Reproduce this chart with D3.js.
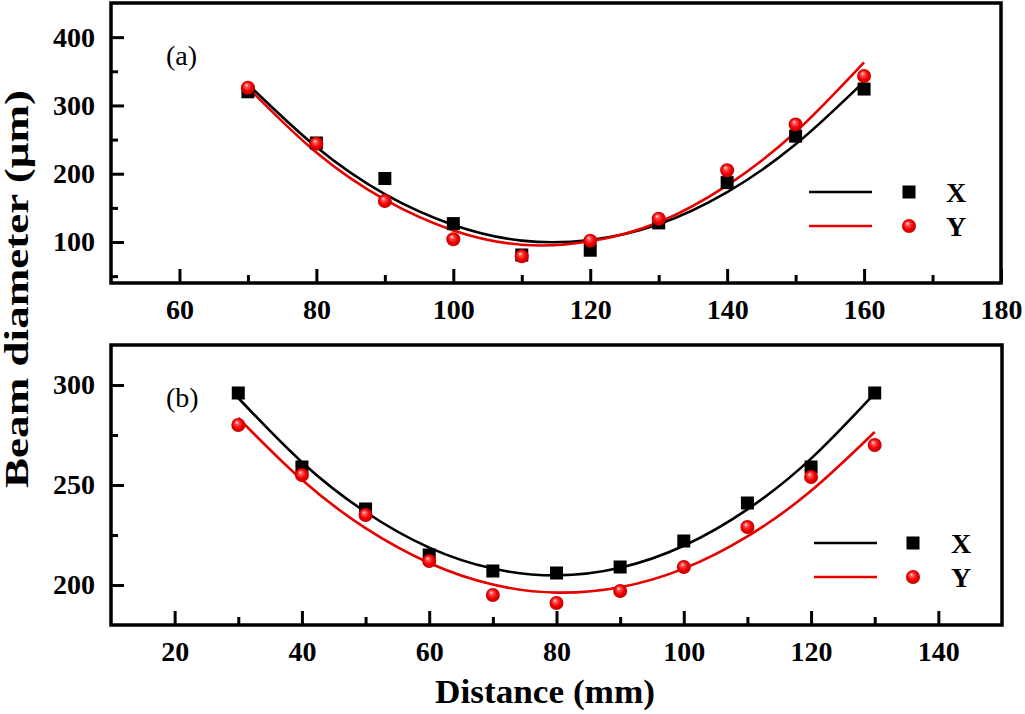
<!DOCTYPE html>
<html>
<head>
<meta charset="utf-8">
<script src="https://cdn.jsdelivr.net/npm/d3@7"></script>
<style>
  body { margin: 0; background: #fff; }
  svg text { font-family: "Liberation Serif", "Times New Roman", serif; }
</style>
</head>
<body>
<div id="chart"></div>
<script>
// panel (a)
var distA = [70, 80, 90, 100, 110, 120, 130, 140, 150, 160];
var xMeasA = [320, 245, 193, 127, 81, 88, 128, 187, 255, 324];
var yMeasA = [326, 244, 160, 104, 79, 102, 134, 205, 272, 343];
// fitted curves at each distance
var xFitA = [331, 239, 170, 125, 102, 103, 126, 173, 243, 335];
var yFitA = [326, 231, 162, 117, 96, 101, 129, 183, 261, 363];

// panel (b)
var distB = [30, 40, 50, 60, 70, 80, 90, 100, 110, 120, 130];
var xMeasB = [296, 259, 238, 215, 207, 206, 209, 222, 241, 259, 296];
var yMeasB = [280, 255, 235, 212, 195, 191, 197, 209, 229, 254, 270];
var xFitB = [293.5, 261.4, 236.5, 218.7, 208.2, 204.8, 208.6, 219.6, 237.8, 263.2, 295.8];
var yFitB = [283.5, 252.6, 228.4, 211.0, 200.2, 196.2, 198.9, 208.2, 224.3, 247.1, 276.5];

var xTicksA = [60, 80, 100, 120, 140, 160, 180];
var xMinorA = [70, 90, 110, 130, 150, 170];
var yTicksA = [100, 200, 300, 400];
var yMinorA = [50, 150, 250, 350];
var xTicksB = [20, 40, 60, 80, 100, 120, 140];
var xMinorB = [30, 50, 70, 90, 110, 130];
var yTicksB = [200, 250, 300];
var yMinorB = [225, 275];

var seriesNames = ["X", "Y"];

var W = 1025, H = 714;
var svg = d3.select("#chart").append("svg")
  .attr("width", W)
  .attr("height", H);

var grad = svg.append("defs").append("radialGradient")
  .attr("id", "ball")
  .attr("cx", "50%").attr("cy", "50%").attr("r", "55%")
  .attr("fx", "38%").attr("fy", "30%");
grad.append("stop").attr("offset", "0%").attr("stop-color", "#ffe8e8");
grad.append("stop").attr("offset", "22%").attr("stop-color", "#ff5a5a");
grad.append("stop").attr("offset", "60%").attr("stop-color", "#f00000");
grad.append("stop").attr("offset", "100%").attr("stop-color", "#b80000");

var panels = [
  {
    label: "(a)", left: 111, right: 1001, top: 3, bottom: 283,
    xDomain: [50, 180], yDomain: [40, 450],
    xTicks: xTicksA, xMinor: xMinorA, yTicks: yTicksA, yMinor: yMinorA,
    dist: distA, meas: [xMeasA, yMeasA], fit: [xFitA, yFitA],
    legend: { x0: 809, x1: 872, mark: 909, text: 946, rows: [192, 226] }
  },
  {
    label: "(b)", left: 111, right: 1002, top: 345, bottom: 625,
    xDomain: [10, 150], yDomain: [180, 320],
    xTicks: xTicksB, xMinor: xMinorB, yTicks: yTicksB, yMinor: yMinorB,
    dist: distB, meas: [xMeasB, yMeasB], fit: [xFitB, yFitB],
    legend: { x0: 814, x1: 877, mark: 913, text: 951, rows: [543, 577] }
  }
];

var colors = ["#000000", "#e60000"];

panels.forEach(function (p) {
  var x = d3.scaleLinear().domain(p.xDomain).range([p.left, p.right]);
  var y = d3.scaleLinear().domain(p.yDomain).range([p.bottom, p.top]);
  var g = svg.append("g");

  // minor ticks
  g.append("g")
    .attr("transform", "translate(0," + p.bottom + ")")
    .call(d3.axisBottom(x).tickValues(p.xMinor).tickSize(-8).tickFormat(""));
  g.append("g")
    .attr("transform", "translate(" + p.left + ",0)")
    .call(d3.axisLeft(y).tickValues(p.yMinor).tickSize(-7).tickFormat(""));

  // major ticks with labels
  g.append("g")
    .attr("class", "xaxis")
    .attr("transform", "translate(0," + p.bottom + ")")
    .call(d3.axisBottom(x).tickValues(p.xTicks).tickSize(-14).tickPadding(16).tickFormat(d3.format("d")));
  g.append("g")
    .attr("class", "yaxis")
    .attr("transform", "translate(" + p.left + ",0)")
    .call(d3.axisLeft(y).tickValues(p.yTicks).tickSize(-13).tickPadding(16).tickFormat(d3.format("d")));

  g.selectAll(".domain").remove();
  g.selectAll(".tick line").attr("stroke", "#000").attr("stroke-width", 3);
  g.selectAll(".tick text")
    .attr("fill", "#000")
    .style("font-size", "28px")
    .style("font-weight", "bold")
    .style("font-family", '"Liberation Serif", "Times New Roman", serif');

  // frame
  g.append("rect")
    .attr("x", p.left).attr("y", p.top)
    .attr("width", p.right - p.left).attr("height", p.bottom - p.top)
    .attr("fill", "none").attr("stroke", "#000").attr("stroke-width", 3.5);

  g.append("text")
    .attr("x", x(p.xDomain[0]) + 55)
    .attr("y", p.top + 62)
    .style("font-size", "28px")
    .text(p.label);

  var line = d3.line()
    .x(function (d) { return x(d[0]); })
    .y(function (d) { return y(d[1]); })
    .curve(d3.curveNatural);

  p.fit.forEach(function (vals, i) {
    g.append("path")
      .datum(p.dist.map(function (d, j) { return [d, vals[j]]; }))
      .attr("d", line)
      .attr("fill", "none")
      .attr("stroke", colors[i])
      .attr("stroke-width", 2.6);
  });

  // squares (X)
  g.selectAll("rect.sq")
    .data(p.dist.map(function (d, j) { return [d, p.meas[0][j]]; }))
    .enter().append("rect")
    .attr("class", "sq")
    .attr("x", function (d) { return x(d[0]) - 6.5; })
    .attr("y", function (d) { return y(d[1]) - 6.5; })
    .attr("width", 13).attr("height", 13)
    .attr("fill", "#000");

  // balls (Y)
  g.selectAll("circle.ball")
    .data(p.dist.map(function (d, j) { return [d, p.meas[1][j]]; }))
    .enter().append("circle")
    .attr("class", "ball")
    .attr("cx", function (d) { return x(d[0]); })
    .attr("cy", function (d) { return y(d[1]); })
    .attr("r", 7)
    .attr("fill", "url(#ball)");

  // legend
  var lg = p.legend;
  seriesNames.forEach(function (name, i) {
    var ry = lg.rows[i];
    g.append("line")
      .attr("x1", lg.x0).attr("x2", lg.x1)
      .attr("y1", ry).attr("y2", ry)
      .attr("stroke", colors[i]).attr("stroke-width", 2.6);
    if (i === 0) {
      g.append("rect")
        .attr("x", lg.mark - 6.5).attr("y", ry - 6.5)
        .attr("width", 13).attr("height", 13).attr("fill", "#000");
    } else {
      g.append("circle")
        .attr("cx", lg.mark).attr("cy", ry).attr("r", 7)
        .attr("fill", "url(#ball)");
    }
    g.append("text")
      .attr("x", lg.text).attr("y", ry + 10)
      .style("font-size", "28px")
      .style("font-weight", "bold")
      .text(name);
  });
});

// axis titles
svg.append("text")
  .attr("transform", "translate(28,289) rotate(-90)")
  .attr("text-anchor", "middle")
  .attr("textLength", 398)
  .attr("lengthAdjust", "spacingAndGlyphs")
  .style("font-size", "33px")
  .style("font-weight", "bold")
  .text("Beam diameter (μm)");

svg.append("text")
  .attr("x", 545)
  .attr("y", 703)
  .attr("text-anchor", "middle")
  .attr("textLength", 220)
  .attr("lengthAdjust", "spacingAndGlyphs")
  .style("font-size", "33px")
  .style("font-weight", "bold")
  .text("Distance (mm)");
</script>
</body>
</html>
